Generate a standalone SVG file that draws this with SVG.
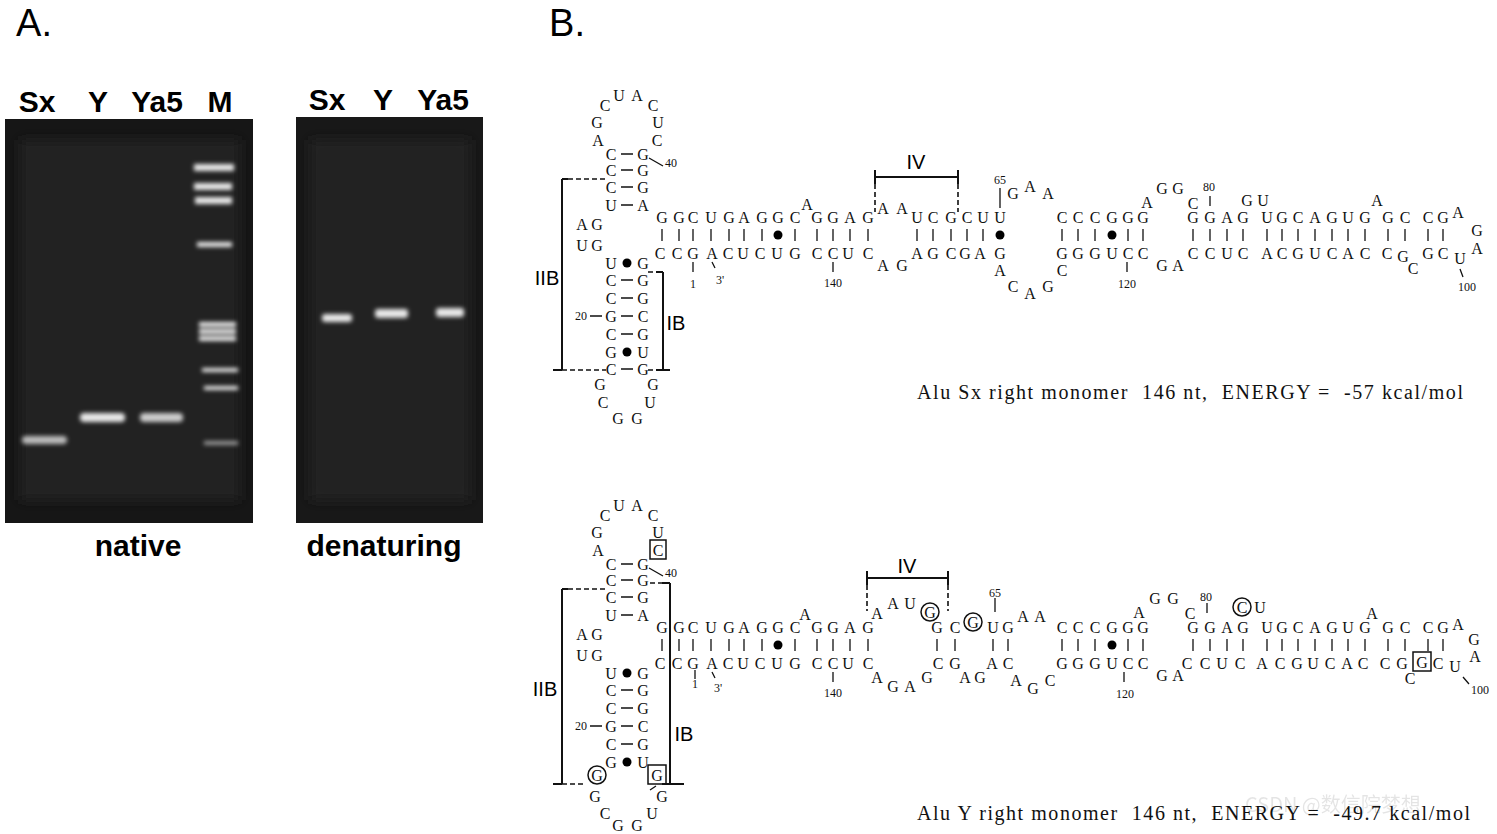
<svg xmlns="http://www.w3.org/2000/svg" width="1497" height="834" viewBox="0 0 1497 834">
<style>
.n{font-family:"Liberation Serif",serif;font-size:16px;text-anchor:middle;dominant-baseline:central;fill:#111}
.s{font-family:"Liberation Serif",serif;font-size:12px;text-anchor:middle;dominant-baseline:central;fill:#111}
.h{font-family:"Liberation Sans",Arial,sans-serif;font-size:30px;font-weight:bold;text-anchor:middle;fill:#000}
.r{font-family:"Liberation Sans",Arial,sans-serif;font-size:20px;text-anchor:middle;dominant-baseline:central;fill:#000}
.c{font-family:"Liberation Serif",serif;font-size:20px;fill:#111}
.ln{stroke:#111;stroke-width:1.3;fill:none}
.br{stroke:#111;stroke-width:2;fill:none}
.da{stroke:#111;stroke-width:1.6;fill:none;stroke-dasharray:5 3}
.bx{stroke:#111;stroke-width:1.5;fill:none}
</style>
<defs>
<filter id="bl" x="-30%" y="-100%" width="160%" height="300%"><feGaussianBlur stdDeviation="2.2"/></filter>
<filter id="bl2" x="-10%" y="-10%" width="120%" height="120%"><feGaussianBlur stdDeviation="6"/></filter>
</defs>
<rect width="1497" height="834" fill="#fff"/>

<g id="panelA">
<text x="34" y="36" font-family="Liberation Sans,Arial,sans-serif" font-size="38" text-anchor="middle">A.</text>
<text class="h" x="37" y="112">Sx</text><text class="h" x="98" y="112">Y</text><text class="h" x="157" y="112">Ya5</text><text class="h" x="220" y="112">M</text>
<text class="h" x="327" y="110">Sx</text><text class="h" x="383" y="110">Y</text><text class="h" x="443" y="110">Ya5</text>
<rect x="5" y="119" width="248" height="404" fill="#161616"/>
<rect x="296" y="117" width="187" height="406" fill="#181818"/>
<rect x="20" y="140" width="220" height="360" fill="#202020" filter="url(#bl2)"/>
<rect x="310" y="140" width="160" height="360" fill="#222" filter="url(#bl2)"/>
<g fill="#e8e8e8" filter="url(#bl)">
<rect x="22" y="436" width="45" height="8" rx="4" fill="#bbb"/>
<rect x="80" y="413" width="45" height="9" rx="4"/>
<rect x="140" y="413" width="43" height="9" rx="4" fill="#ccc"/>
<rect x="194" y="164" width="40" height="7"/><rect x="194" y="183" width="38" height="7"/><rect x="195" y="197" width="37" height="7"/>
<rect x="197" y="242" width="35" height="5"/><rect x="199" y="322" width="37" height="5"/><rect x="199" y="329" width="37" height="5"/><rect x="199" y="336" width="37" height="5"/>
<rect x="202" y="368" width="36" height="4"/><rect x="204" y="386" width="34" height="4"/><rect x="204" y="441" width="34" height="4" fill="#999"/>
<rect x="322" y="314" width="30" height="8" rx="3"/><rect x="375" y="309" width="33" height="9" rx="3"/><rect x="436" y="308" width="28" height="9" rx="3"/>
</g>
<text class="h" x="138" y="556">native</text>
<text class="h" x="384" y="556">denaturing</text>
</g>

<text x="567" y="36" font-family="Liberation Sans,Arial,sans-serif" font-size="38" text-anchor="middle">B.</text>

<g id="sx">
<text class="n" x="605 653" y="105">CC</text><text class="n" x="619 637" y="95">UA</text>
<text class="n" x="597 658" y="122">GU</text>
<text class="n" x="598 657" y="140">AC</text>
<text class="n" x="611 643" y="154">CG</text><text class="n" x="611 643" y="170">CG</text><text class="n" x="611 643" y="187">CG</text><text class="n" x="611 643" y="205">UA</text>
<text class="n" x="611 643" y="263">UG</text><text class="n" x="611 643" y="280">CG</text><text class="n" x="611 643" y="298">CG</text><text class="n" x="611 643" y="316">GC</text><text class="n" x="611 643" y="334">CG</text><text class="n" x="611 643" y="352">GU</text><text class="n" x="611 643" y="369">CG</text>
<path class="ln" d="M621 154h12M621 170h12M621 187h12M621 205h12M621 280h12M621 298h12M621 316h12M621 334h12M621 369h12M649 158l14 8M590 316h12"/>
<circle cx="627" cy="263" r="4.5"/><circle cx="627" cy="352" r="4.5"/>
<text class="s" x="671" y="163">40</text><text class="s" x="581" y="316">20</text>
<text class="n" x="582 597" y="224">AG</text><text class="n" x="582 597" y="245">UG</text>
<text class="n" x="600 653" y="384">GG</text><text class="n" x="603 650" y="402">CU</text><text class="n" x="618 637" y="418">GG</text>
<path class="br" d="M562 179V370M562 179h6M553 370h9"/><path class="da" d="M568 179h38M562 370h44"/>
<path class="br" d="M663 272V370M656 272h7M656 370h14"/><path class="da" d="M648 272h8M648 370h8"/>
<text class="r" x="547" y="278">IIB</text><text class="r" x="676" y="323">IB</text>
<text class="n" x="662 679 693 711 729 744 762 778 795 817 833 850 868" y="217">GGCUGAGGCGGAG</text>
<text class="n" x="660 677 693 712 728 743 760 777 795 817 833 848 868" y="253">CCGACUCUGCCUC</text>
<path class="ln" d="M662 229v12M679 229v12M693 229v12M711 229v12M729 229v12M744 229v12M762 229v12M795 229v12M817 229v12M833 229v12M850 229v12M868 229v12M917 229v12M933 229v12M951 229v12M967 229v12M983 229v12M1062 229v12M1078 229v12M1095 229v12M1128 229v12M1143 229v12M1193 229v12M1210 229v12M1227 229v12M1243 229v12M1267 229v12M1282 229v12M1298 229v12M1315 229v12M1332 229v12M1348 229v12M1365 229v12M1388 229v12M1405 229v12M1428 229v12M1443 229v12"/>
<circle cx="778" cy="235" r="4.5"/><circle cx="1000" cy="235" r="4.5"/><circle cx="1112" cy="235" r="4.5"/>
<text class="n" x="807" y="204">A</text>
<text class="n" x="883 902" y="208">AA</text>
<text class="n" x="917 933 951 967 983 1000" y="217">UCGCUU</text>
<text class="n" x="883 902" y="265">AG</text>
<text class="n" x="917 933 951 965 980 1000" y="253">AGCGAG</text>
<text class="n" x="1013 1048" y="193">GA</text><text class="n" x="1030" y="186">A</text>
<text class="n" x="1000 1062" y="270">AC</text><text class="n" x="1013 1048" y="286">CG</text><text class="n" x="1030" y="293">A</text>
<text class="n" x="1062 1078 1095 1112 1128 1143" y="217">CCCGGG</text>
<text class="n" x="1062 1078 1095 1112 1128 1143" y="253">GGGUCC</text>
<text class="n" x="1162 1178" y="265">GA</text>
<text class="n" x="1147" y="202">A</text><text class="n" x="1162 1178" y="188">GG</text><text class="n" x="1193" y="203">C</text>
<text class="n" x="1193 1210 1227 1243 1267 1282 1298 1315 1332 1348 1365 1388 1405 1428 1443" y="217">GGAGUGCAGUGGCCG</text>
<text class="n" x="1247 1263" y="200">GU</text><text class="n" x="1377" y="200">A</text>
<text class="n" x="1193 1210 1227 1243 1267 1282 1298 1315 1332 1348 1365 1387" y="253">CCUCACGUCACC</text>
<text class="n" x="1403" y="256">G</text><text class="n" x="1428 1443" y="253">GC</text><text class="n" x="1460" y="258">U</text><text class="n" x="1413" y="268">C</text>
<text class="n" x="1458" y="212">A</text><text class="n" x="1477" y="230">G</text><text class="n" x="1477" y="248">A</text>
<path class="ln" d="M693 262v10M712 262l3 6M833 262v10M1127 262v10M1460 269l3 8M1000 188v20M1210 196v10"/>
<text class="s" x="693" y="284">1</text><text class="s" x="720" y="280">3'</text><text class="s" x="833" y="283">140</text><text class="s" x="1127" y="284">120</text><text class="s" x="1467" y="287">100</text><text class="s" x="1000" y="180">65</text><text class="s" x="1209" y="187">80</text>
<path class="br" d="M875 177h83M875 170v14M958 170v14"/><path class="da" d="M875 184v28M958 184v28"/>
<text class="r" x="916" y="162">IV</text>
<text class="c" x="917" y="399" xml:space="preserve" textLength="546" lengthAdjust="spacing">Alu Sx right monomer  146 nt,  ENERGY =  -57 kcal/mol</text>
</g>

<g id="y">
<text class="n" x="605 653" y="515">CC</text><text class="n" x="619 637" y="505">UA</text>
<text class="n" x="597 658" y="532">GU</text>
<text class="n" x="598 658" y="550">AC</text>
<rect class="bx" x="650" y="540" width="16" height="19"/>
<text class="n" x="611 643" y="564">CG</text><text class="n" x="611 643" y="580">CG</text><text class="n" x="611 643" y="597">CG</text><text class="n" x="611 643" y="615">UA</text>
<text class="n" x="611 643" y="673">UG</text><text class="n" x="611 643" y="690">CG</text><text class="n" x="611 643" y="708">CG</text><text class="n" x="611 643" y="726">GC</text><text class="n" x="611 643" y="744">CG</text><text class="n" x="611 643" y="762">GU</text>
<path class="ln" d="M621 564h12M621 580h12M621 597h12M621 615h12M621 690h12M621 708h12M621 726h12M621 744h12M649 568l14 8M590 726h12M656 786l-6 4"/>
<circle cx="627" cy="673" r="4.5"/><circle cx="627" cy="762" r="4.5"/>
<text class="s" x="671" y="573">40</text><text class="s" x="581" y="726">20</text>
<text class="n" x="582 597" y="634">AG</text><text class="n" x="582 597" y="655">UG</text>
<text class="n" x="597" y="775">G</text><circle class="bx" cx="597" cy="775" r="9"/>
<text class="n" x="657" y="775">G</text><rect class="bx" x="648" y="765" width="18" height="19"/>
<text class="n" x="595 662" y="796">GG</text><text class="n" x="605 652" y="813">CU</text><text class="n" x="618 637" y="825">GG</text>
<path class="br" d="M562 589V784M562 589h6M553 784h9"/><path class="da" d="M568 589h38M562 784h22"/>
<path class="br" d="M670 583V784M662 583h8M662 784h22"/><path class="da" d="M650 583h12"/>
<text class="r" x="545" y="689">IIB</text><text class="r" x="684" y="734">IB</text>
<text class="n" x="662 679 693 711 729 744 762 778 795 817 833 850 868" y="627">GGCUGAGGCGGAG</text>
<text class="n" x="660 677 693 712 728 743 760 777 795 817 833 848 868" y="663">CCGACUCUGCCUC</text>
<path class="ln" d="M662 639v12M679 639v12M693 639v12M711 639v12M729 639v12M744 639v12M762 639v12M795 639v12M817 639v12M833 639v12M850 639v12M868 639v12M937 639v12M955 639v12M993 639v12M1008 639v12M1062 639v12M1078 639v12M1095 639v12M1128 639v12M1143 639v12M1193 639v12M1210 639v12M1227 639v12M1243 639v12M1267 639v12M1282 639v12M1298 639v12M1315 639v12M1332 639v12M1348 639v12M1365 639v12M1388 639v12M1405 639v12M1428 639v12M1443 639v12"/>
<circle cx="778" cy="645" r="4.5"/><circle cx="1112" cy="645" r="4.5"/>
<text class="n" x="805" y="614">A</text>
<text class="n" x="877" y="613">A</text><text class="n" x="893 910" y="603">AU</text>
<text class="n" x="930" y="612">G</text><circle class="bx" cx="930" cy="612" r="9"/>
<text class="n" x="937 955" y="627">GC</text>
<text class="n" x="973" y="622">G</text><circle class="bx" cx="973" cy="622" r="9"/>
<text class="n" x="993 1008" y="627">UG</text>
<text class="n" x="1023 1040" y="616">AA</text>
<text class="n" x="877" y="677">A</text><text class="n" x="893 910" y="686">GA</text><text class="n" x="927" y="677">G</text>
<text class="n" x="938 955" y="663">CG</text><text class="n" x="965 980" y="677">AG</text><text class="n" x="992 1008" y="663">AC</text>
<text class="n" x="1016 1050" y="680">AC</text><text class="n" x="1033" y="688">G</text>
<text class="n" x="1062 1078 1095 1112 1128 1143" y="627">CCCGGG</text>
<text class="n" x="1062 1078 1095 1112 1128 1143" y="663">GGGUCC</text>
<text class="n" x="1162 1178" y="675">GA</text>
<text class="n" x="1139" y="612">A</text><text class="n" x="1155 1173" y="598">GG</text><text class="n" x="1190" y="613">C</text>
<text class="n" x="1193 1210 1227 1243 1267 1282 1298 1315 1332 1348 1365 1388 1405 1428 1443" y="627">GGAGUGCAGUGGCCG</text>
<text class="n" x="1242" y="607">C</text><circle class="bx" cx="1242" cy="607" r="9"/><text class="n" x="1260" y="607">U</text>
<text class="n" x="1372" y="613">A</text>
<text class="n" x="1187 1205 1222 1240 1262 1280 1297 1313 1330 1347 1363 1385 1402" y="663">CCUCACGUCACCG</text>
<text class="n" x="1422" y="662">G</text><rect class="bx" x="1413" y="652" width="18" height="19"/>
<text class="n" x="1438" y="663">C</text><text class="n" x="1455" y="666">U</text><text class="n" x="1410" y="678">C</text>
<text class="n" x="1458" y="624">A</text><text class="n" x="1474" y="639">G</text><text class="n" x="1475" y="656">A</text>
<path class="ln" d="M695 670v9M712 672l3 6M833 672v10M1124 672v10M1463 677l6 7M995 598v14M1207 603v10"/>
<text class="s" x="695" y="684">1</text><text class="s" x="718" y="688">3'</text><text class="s" x="833" y="693">140</text><text class="s" x="1125" y="694">120</text><text class="s" x="1480" y="690">100</text><text class="s" x="995" y="593">65</text><text class="s" x="1206" y="597">80</text>
<path class="br" d="M867 578h81M867 571v14M948 571v14"/><path class="da" d="M867 585v26M948 585v26"/>
<text class="r" x="907" y="566">IV</text>
<text class="c" x="917" y="820" xml:space="preserve" textLength="553" lengthAdjust="spacing">Alu Y right monomer  146 nt,  ENERGY =  -49.7 kcal/mol</text>
</g>
<text x="1245" y="812" font-family="Noto Sans CJK SC,sans-serif" font-size="20" fill="#000" opacity="0.1">CSDN @数信院梦想</text>
</svg>
